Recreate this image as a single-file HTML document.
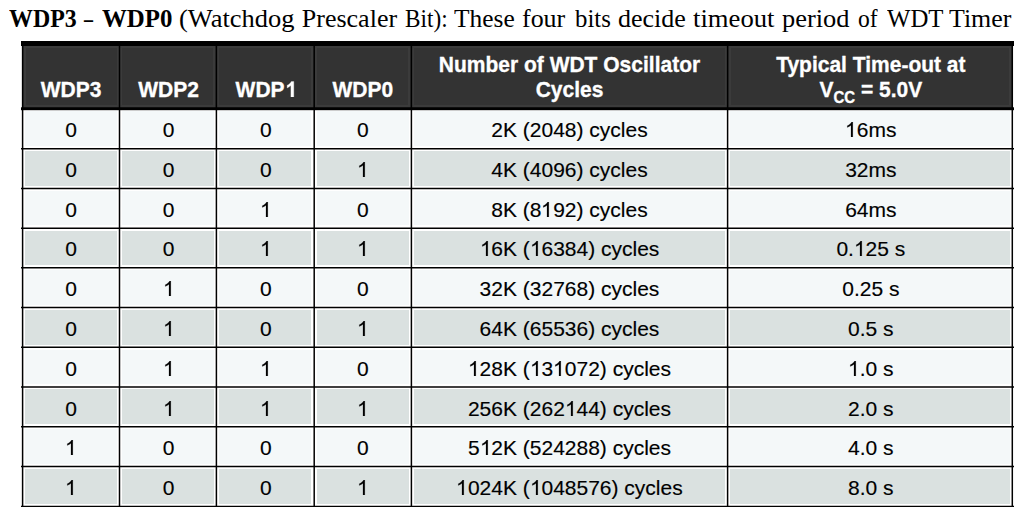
<!DOCTYPE html>
<html><head><meta charset="utf-8"><style>
html,body{margin:0;padding:0;background:#fff;width:1024px;height:515px;overflow:hidden;position:relative}
.t{position:absolute;top:-1px;font-family:"Liberation Serif",serif;font-size:26px;line-height:40px;color:#000;white-space:nowrap;transform-origin:0 0}
.b{font-weight:bold}
.c{position:absolute;font-family:"Liberation Sans",sans-serif;font-size:21px;line-height:24px;text-align:center;white-space:nowrap;color:#000;transform-origin:50% 19.27px;transform:scaleY(1.0);-webkit-text-stroke:0.15px #000}
.h{transform:scaleY(1.05);color:#fff;font-weight:bold;-webkit-text-stroke:0.3px #fff}
.bg{position:absolute}
.d1{width:0.5562em;height:0.7158em;vertical-align:baseline;fill:currentColor;stroke:currentColor;display:inline-block}
.c .d1 path{stroke-width:15}
.h .d1 path{stroke-width:29}
sub{font-size:15px;vertical-align:baseline;position:relative;top:5.7px}
</style></head><body>

<span class="t b" style="left:8.90px;transform:scaleX(0.9192)">WDP3</span>
<span class="t b" style="left:84.00px;transform:scaleX(0.6923)">–</span>
<span class="t b" style="left:101.50px;transform:scaleX(0.9562)">WDP0</span>
<span class="t" style="left:178.88px;transform:scaleX(1.0179)">(Watchdog</span>
<span class="t" style="left:301.80px;transform:scaleX(1.0000)">Prescaler</span>
<span class="t" style="left:404.51px;transform:scaleX(0.8933)">Bit):</span>
<span class="t" style="left:454.20px;transform:scaleX(0.9770)">These</span>
<span class="t" style="left:521.60px;transform:scaleX(0.9976)">four</span>
<span class="t" style="left:574.70px;transform:scaleX(0.9541)">bits</span>
<span class="t" style="left:618.00px;transform:scaleX(1.0000)">decide</span>
<span class="t" style="left:692.97px;transform:scaleX(1.0256)">timeout</span>
<span class="t" style="left:781.78px;transform:scaleX(1.0154)">period</span>
<span class="t" style="left:858.10px;transform:scaleX(0.9048)">of</span>
<span class="t" style="left:886.70px;transform:scaleX(0.9542)">WDT</span>
<span class="t" style="left:949.00px;transform:scaleX(0.9952)">Timer</span>
<div class="bg" style="left:22px;top:46px;width:990px;height:62px;background:#333333"></div>
<div class="bg" style="left:23.5px;top:46px;width:95.1px;height:61px;box-shadow:inset 0 0 0 2.0px #3b3b3b"></div>
<div class="bg" style="left:120.4px;top:46px;width:95.1px;height:61px;box-shadow:inset 0 0 0 2.0px #3b3b3b"></div>
<div class="bg" style="left:217.3px;top:46px;width:96.0px;height:61px;box-shadow:inset 0 0 0 2.0px #3b3b3b"></div>
<div class="bg" style="left:315.1px;top:46px;width:95.4px;height:61px;box-shadow:inset 0 0 0 2.0px #3b3b3b"></div>
<div class="bg" style="left:412.3px;top:46px;width:314.4px;height:61px;box-shadow:inset 0 0 0 2.0px #3b3b3b"></div>
<div class="bg" style="left:728.5px;top:46px;width:282.9px;height:61px;box-shadow:inset 0 0 0 2.0px #3b3b3b"></div>
<div class="bg" style="left:25.3px;top:111.4px;width:91.4px;height:34.7px;background:#f4f8f9"></div>
<div class="bg" style="left:122.2px;top:111.4px;width:91.4px;height:34.7px;background:#f4f8f9"></div>
<div class="bg" style="left:219.1px;top:111.4px;width:92.3px;height:34.7px;background:#f4f8f9"></div>
<div class="bg" style="left:316.9px;top:111.4px;width:91.7px;height:34.7px;background:#f4f8f9"></div>
<div class="bg" style="left:414.1px;top:111.4px;width:310.7px;height:34.7px;background:#f4f8f9"></div>
<div class="bg" style="left:730.3px;top:111.4px;width:280.1px;height:34.7px;background:#f4f8f9"></div>
<div class="bg" style="left:25.3px;top:151.1px;width:91.4px;height:34.7px;background:#dae1e0"></div>
<div class="bg" style="left:122.2px;top:151.1px;width:91.4px;height:34.7px;background:#dae1e0"></div>
<div class="bg" style="left:219.1px;top:151.1px;width:92.3px;height:34.7px;background:#dae1e0"></div>
<div class="bg" style="left:316.9px;top:151.1px;width:91.7px;height:34.7px;background:#dae1e0"></div>
<div class="bg" style="left:414.1px;top:151.1px;width:310.7px;height:34.7px;background:#dae1e0"></div>
<div class="bg" style="left:730.3px;top:151.1px;width:280.1px;height:34.7px;background:#dae1e0"></div>
<div class="bg" style="left:25.3px;top:190.8px;width:91.4px;height:34.7px;background:#f4f8f9"></div>
<div class="bg" style="left:122.2px;top:190.8px;width:91.4px;height:34.7px;background:#f4f8f9"></div>
<div class="bg" style="left:219.1px;top:190.8px;width:92.3px;height:34.7px;background:#f4f8f9"></div>
<div class="bg" style="left:316.9px;top:190.8px;width:91.7px;height:34.7px;background:#f4f8f9"></div>
<div class="bg" style="left:414.1px;top:190.8px;width:310.7px;height:34.7px;background:#f4f8f9"></div>
<div class="bg" style="left:730.3px;top:190.8px;width:280.1px;height:34.7px;background:#f4f8f9"></div>
<div class="bg" style="left:25.3px;top:230.5px;width:91.4px;height:34.7px;background:#dae1e0"></div>
<div class="bg" style="left:122.2px;top:230.5px;width:91.4px;height:34.7px;background:#dae1e0"></div>
<div class="bg" style="left:219.1px;top:230.5px;width:92.3px;height:34.7px;background:#dae1e0"></div>
<div class="bg" style="left:316.9px;top:230.5px;width:91.7px;height:34.7px;background:#dae1e0"></div>
<div class="bg" style="left:414.1px;top:230.5px;width:310.7px;height:34.7px;background:#dae1e0"></div>
<div class="bg" style="left:730.3px;top:230.5px;width:280.1px;height:34.7px;background:#dae1e0"></div>
<div class="bg" style="left:25.3px;top:270.3px;width:91.4px;height:34.7px;background:#f4f8f9"></div>
<div class="bg" style="left:122.2px;top:270.3px;width:91.4px;height:34.7px;background:#f4f8f9"></div>
<div class="bg" style="left:219.1px;top:270.3px;width:92.3px;height:34.7px;background:#f4f8f9"></div>
<div class="bg" style="left:316.9px;top:270.3px;width:91.7px;height:34.7px;background:#f4f8f9"></div>
<div class="bg" style="left:414.1px;top:270.3px;width:310.7px;height:34.7px;background:#f4f8f9"></div>
<div class="bg" style="left:730.3px;top:270.3px;width:280.1px;height:34.7px;background:#f4f8f9"></div>
<div class="bg" style="left:25.3px;top:310.0px;width:91.4px;height:34.7px;background:#dae1e0"></div>
<div class="bg" style="left:122.2px;top:310.0px;width:91.4px;height:34.7px;background:#dae1e0"></div>
<div class="bg" style="left:219.1px;top:310.0px;width:92.3px;height:34.7px;background:#dae1e0"></div>
<div class="bg" style="left:316.9px;top:310.0px;width:91.7px;height:34.7px;background:#dae1e0"></div>
<div class="bg" style="left:414.1px;top:310.0px;width:310.7px;height:34.7px;background:#dae1e0"></div>
<div class="bg" style="left:730.3px;top:310.0px;width:280.1px;height:34.7px;background:#dae1e0"></div>
<div class="bg" style="left:25.3px;top:349.7px;width:91.4px;height:34.7px;background:#f4f8f9"></div>
<div class="bg" style="left:122.2px;top:349.7px;width:91.4px;height:34.7px;background:#f4f8f9"></div>
<div class="bg" style="left:219.1px;top:349.7px;width:92.3px;height:34.7px;background:#f4f8f9"></div>
<div class="bg" style="left:316.9px;top:349.7px;width:91.7px;height:34.7px;background:#f4f8f9"></div>
<div class="bg" style="left:414.1px;top:349.7px;width:310.7px;height:34.7px;background:#f4f8f9"></div>
<div class="bg" style="left:730.3px;top:349.7px;width:280.1px;height:34.7px;background:#f4f8f9"></div>
<div class="bg" style="left:25.3px;top:389.4px;width:91.4px;height:34.7px;background:#dae1e0"></div>
<div class="bg" style="left:122.2px;top:389.4px;width:91.4px;height:34.7px;background:#dae1e0"></div>
<div class="bg" style="left:219.1px;top:389.4px;width:92.3px;height:34.7px;background:#dae1e0"></div>
<div class="bg" style="left:316.9px;top:389.4px;width:91.7px;height:34.7px;background:#dae1e0"></div>
<div class="bg" style="left:414.1px;top:389.4px;width:310.7px;height:34.7px;background:#dae1e0"></div>
<div class="bg" style="left:730.3px;top:389.4px;width:280.1px;height:34.7px;background:#dae1e0"></div>
<div class="bg" style="left:25.3px;top:429.1px;width:91.4px;height:34.7px;background:#f4f8f9"></div>
<div class="bg" style="left:122.2px;top:429.1px;width:91.4px;height:34.7px;background:#f4f8f9"></div>
<div class="bg" style="left:219.1px;top:429.1px;width:92.3px;height:34.7px;background:#f4f8f9"></div>
<div class="bg" style="left:316.9px;top:429.1px;width:91.7px;height:34.7px;background:#f4f8f9"></div>
<div class="bg" style="left:414.1px;top:429.1px;width:310.7px;height:34.7px;background:#f4f8f9"></div>
<div class="bg" style="left:730.3px;top:429.1px;width:280.1px;height:34.7px;background:#f4f8f9"></div>
<div class="bg" style="left:25.3px;top:468.9px;width:91.4px;height:34.8px;background:#dae1e0"></div>
<div class="bg" style="left:122.2px;top:468.9px;width:91.4px;height:34.8px;background:#dae1e0"></div>
<div class="bg" style="left:219.1px;top:468.9px;width:92.3px;height:34.8px;background:#dae1e0"></div>
<div class="bg" style="left:316.9px;top:468.9px;width:91.7px;height:34.8px;background:#dae1e0"></div>
<div class="bg" style="left:414.1px;top:468.9px;width:310.7px;height:34.8px;background:#dae1e0"></div>
<div class="bg" style="left:730.3px;top:468.9px;width:280.1px;height:34.8px;background:#dae1e0"></div>
<svg width="1024" height="515" style="position:absolute;left:0;top:0"><rect x="21" y="41" width="993" height="5" fill="#000"/><rect x="21" y="107.3" width="993" height="2.9" fill="#000"/><line x1="22.60" y1="41" x2="22.60" y2="507" stroke="#000" stroke-width="1.5"/><line x1="119.50" y1="41" x2="119.50" y2="507" stroke="#000" stroke-width="1.5"/><line x1="216.40" y1="41" x2="216.40" y2="507" stroke="#000" stroke-width="1.5"/><line x1="314.20" y1="41" x2="314.20" y2="507" stroke="#000" stroke-width="1.5"/><line x1="411.40" y1="41" x2="411.40" y2="507" stroke="#000" stroke-width="1.5"/><line x1="727.60" y1="41" x2="727.60" y2="507" stroke="#000" stroke-width="1.5"/><line x1="1012.30" y1="41" x2="1012.30" y2="507" stroke="#000" stroke-width="1.5"/><line x1="21" y1="148.70" x2="1014" y2="148.70" stroke="#000" stroke-width="1.5"/><line x1="21" y1="188.42" x2="1014" y2="188.42" stroke="#000" stroke-width="1.5"/><line x1="21" y1="228.14" x2="1014" y2="228.14" stroke="#000" stroke-width="1.5"/><line x1="21" y1="267.86" x2="1014" y2="267.86" stroke="#000" stroke-width="1.5"/><line x1="21" y1="307.58" x2="1014" y2="307.58" stroke="#000" stroke-width="1.5"/><line x1="21" y1="347.30" x2="1014" y2="347.30" stroke="#000" stroke-width="1.5"/><line x1="21" y1="387.02" x2="1014" y2="387.02" stroke="#000" stroke-width="1.5"/><line x1="21" y1="426.74" x2="1014" y2="426.74" stroke="#000" stroke-width="1.5"/><line x1="21" y1="466.46" x2="1014" y2="466.46" stroke="#000" stroke-width="1.5"/><line x1="21" y1="506.30" x2="1014" y2="506.30" stroke="#000" stroke-width="1.3"/></svg>
<div class="c h" style="left:22.6px;top:78.33px;width:96.9px">WDP3</div>
<div class="c h" style="left:120.1px;top:78.33px;width:96.9px">WDP2</div>
<div class="c h" style="left:217.0px;top:78.33px;width:97.8px">WDP<svg class="d1" viewBox="0 0 1139 1466"><path d="M856 1466L575 1466L575 407Q421 551 213 620L213 365Q322 329 450 231Q578 133 625 0L856 0Z"/></svg></div>
<div class="c h" style="left:314.2px;top:78.33px;width:97.2px">WDP0</div>
<div class="c h" style="left:411.4px;top:52.53px;width:316.2px">Number of WDT Oscillator</div>
<div class="c h" style="left:411.4px;top:78.13px;width:316.2px">Cycles</div>
<div class="c h" style="left:728.5px;top:52.53px;width:284.7px">Typical Time-out at</div>
<div class="c h" style="left:728.5px;top:78.13px;width:284.7px">V<sub>CC</sub> = 5.0V</div>
<div class="c" style="left:22.6px;top:118.13px;width:96.9px">0</div>
<div class="c" style="left:120.1px;top:118.13px;width:96.9px">0</div>
<div class="c" style="left:217.0px;top:118.13px;width:97.8px">0</div>
<div class="c" style="left:314.2px;top:118.13px;width:97.2px">0</div>
<div class="c" style="left:411.4px;top:118.13px;width:316.2px">2K (2048) cycles</div>
<div class="c" style="left:728.5px;top:118.13px;width:284.7px"><svg class="d1" viewBox="0 0 1139 1466"><path d="M763 1466L583 1466L583 319Q518 381 412 443Q306 505 222 536L222 362Q373 291 486 190Q599 89 646 0L763 0Z"/></svg>6ms</div>
<div class="c" style="left:22.6px;top:157.91px;width:96.9px">0</div>
<div class="c" style="left:120.1px;top:157.91px;width:96.9px">0</div>
<div class="c" style="left:217.0px;top:157.91px;width:97.8px">0</div>
<div class="c" style="left:314.2px;top:157.91px;width:97.2px"><svg class="d1" viewBox="0 0 1139 1466"><path d="M763 1466L583 1466L583 319Q518 381 412 443Q306 505 222 536L222 362Q373 291 486 190Q599 89 646 0L763 0Z"/></svg></div>
<div class="c" style="left:411.4px;top:157.91px;width:316.2px">4K (4096) cycles</div>
<div class="c" style="left:728.5px;top:157.91px;width:284.7px">32ms</div>
<div class="c" style="left:22.6px;top:197.69px;width:96.9px">0</div>
<div class="c" style="left:120.1px;top:197.69px;width:96.9px">0</div>
<div class="c" style="left:217.0px;top:197.69px;width:97.8px"><svg class="d1" viewBox="0 0 1139 1466"><path d="M763 1466L583 1466L583 319Q518 381 412 443Q306 505 222 536L222 362Q373 291 486 190Q599 89 646 0L763 0Z"/></svg></div>
<div class="c" style="left:314.2px;top:197.69px;width:97.2px">0</div>
<div class="c" style="left:411.4px;top:197.69px;width:316.2px">8K (8<svg class="d1" viewBox="0 0 1139 1466"><path d="M763 1466L583 1466L583 319Q518 381 412 443Q306 505 222 536L222 362Q373 291 486 190Q599 89 646 0L763 0Z"/></svg>92) cycles</div>
<div class="c" style="left:728.5px;top:197.69px;width:284.7px">64ms</div>
<div class="c" style="left:22.6px;top:237.47px;width:96.9px">0</div>
<div class="c" style="left:120.1px;top:237.47px;width:96.9px">0</div>
<div class="c" style="left:217.0px;top:237.47px;width:97.8px"><svg class="d1" viewBox="0 0 1139 1466"><path d="M763 1466L583 1466L583 319Q518 381 412 443Q306 505 222 536L222 362Q373 291 486 190Q599 89 646 0L763 0Z"/></svg></div>
<div class="c" style="left:314.2px;top:237.47px;width:97.2px"><svg class="d1" viewBox="0 0 1139 1466"><path d="M763 1466L583 1466L583 319Q518 381 412 443Q306 505 222 536L222 362Q373 291 486 190Q599 89 646 0L763 0Z"/></svg></div>
<div class="c" style="left:411.4px;top:237.47px;width:316.2px"><svg class="d1" viewBox="0 0 1139 1466"><path d="M763 1466L583 1466L583 319Q518 381 412 443Q306 505 222 536L222 362Q373 291 486 190Q599 89 646 0L763 0Z"/></svg>6K (<svg class="d1" viewBox="0 0 1139 1466"><path d="M763 1466L583 1466L583 319Q518 381 412 443Q306 505 222 536L222 362Q373 291 486 190Q599 89 646 0L763 0Z"/></svg>6384) cycles</div>
<div class="c" style="left:728.5px;top:237.47px;width:284.7px">0.<svg class="d1" viewBox="0 0 1139 1466"><path d="M763 1466L583 1466L583 319Q518 381 412 443Q306 505 222 536L222 362Q373 291 486 190Q599 89 646 0L763 0Z"/></svg>25 s</div>
<div class="c" style="left:22.6px;top:277.25px;width:96.9px">0</div>
<div class="c" style="left:120.1px;top:277.25px;width:96.9px"><svg class="d1" viewBox="0 0 1139 1466"><path d="M763 1466L583 1466L583 319Q518 381 412 443Q306 505 222 536L222 362Q373 291 486 190Q599 89 646 0L763 0Z"/></svg></div>
<div class="c" style="left:217.0px;top:277.25px;width:97.8px">0</div>
<div class="c" style="left:314.2px;top:277.25px;width:97.2px">0</div>
<div class="c" style="left:411.4px;top:277.25px;width:316.2px">32K (32768) cycles</div>
<div class="c" style="left:728.5px;top:277.25px;width:284.7px">0.25 s</div>
<div class="c" style="left:22.6px;top:317.03px;width:96.9px">0</div>
<div class="c" style="left:120.1px;top:317.03px;width:96.9px"><svg class="d1" viewBox="0 0 1139 1466"><path d="M763 1466L583 1466L583 319Q518 381 412 443Q306 505 222 536L222 362Q373 291 486 190Q599 89 646 0L763 0Z"/></svg></div>
<div class="c" style="left:217.0px;top:317.03px;width:97.8px">0</div>
<div class="c" style="left:314.2px;top:317.03px;width:97.2px"><svg class="d1" viewBox="0 0 1139 1466"><path d="M763 1466L583 1466L583 319Q518 381 412 443Q306 505 222 536L222 362Q373 291 486 190Q599 89 646 0L763 0Z"/></svg></div>
<div class="c" style="left:411.4px;top:317.03px;width:316.2px">64K (65536) cycles</div>
<div class="c" style="left:728.5px;top:317.03px;width:284.7px">0.5 s</div>
<div class="c" style="left:22.6px;top:356.81px;width:96.9px">0</div>
<div class="c" style="left:120.1px;top:356.81px;width:96.9px"><svg class="d1" viewBox="0 0 1139 1466"><path d="M763 1466L583 1466L583 319Q518 381 412 443Q306 505 222 536L222 362Q373 291 486 190Q599 89 646 0L763 0Z"/></svg></div>
<div class="c" style="left:217.0px;top:356.81px;width:97.8px"><svg class="d1" viewBox="0 0 1139 1466"><path d="M763 1466L583 1466L583 319Q518 381 412 443Q306 505 222 536L222 362Q373 291 486 190Q599 89 646 0L763 0Z"/></svg></div>
<div class="c" style="left:314.2px;top:356.81px;width:97.2px">0</div>
<div class="c" style="left:411.4px;top:356.81px;width:316.2px"><svg class="d1" viewBox="0 0 1139 1466"><path d="M763 1466L583 1466L583 319Q518 381 412 443Q306 505 222 536L222 362Q373 291 486 190Q599 89 646 0L763 0Z"/></svg>28K (<svg class="d1" viewBox="0 0 1139 1466"><path d="M763 1466L583 1466L583 319Q518 381 412 443Q306 505 222 536L222 362Q373 291 486 190Q599 89 646 0L763 0Z"/></svg>3<svg class="d1" viewBox="0 0 1139 1466"><path d="M763 1466L583 1466L583 319Q518 381 412 443Q306 505 222 536L222 362Q373 291 486 190Q599 89 646 0L763 0Z"/></svg>072) cycles</div>
<div class="c" style="left:728.5px;top:356.81px;width:284.7px"><svg class="d1" viewBox="0 0 1139 1466"><path d="M763 1466L583 1466L583 319Q518 381 412 443Q306 505 222 536L222 362Q373 291 486 190Q599 89 646 0L763 0Z"/></svg>.0 s</div>
<div class="c" style="left:22.6px;top:396.59px;width:96.9px">0</div>
<div class="c" style="left:120.1px;top:396.59px;width:96.9px"><svg class="d1" viewBox="0 0 1139 1466"><path d="M763 1466L583 1466L583 319Q518 381 412 443Q306 505 222 536L222 362Q373 291 486 190Q599 89 646 0L763 0Z"/></svg></div>
<div class="c" style="left:217.0px;top:396.59px;width:97.8px"><svg class="d1" viewBox="0 0 1139 1466"><path d="M763 1466L583 1466L583 319Q518 381 412 443Q306 505 222 536L222 362Q373 291 486 190Q599 89 646 0L763 0Z"/></svg></div>
<div class="c" style="left:314.2px;top:396.59px;width:97.2px"><svg class="d1" viewBox="0 0 1139 1466"><path d="M763 1466L583 1466L583 319Q518 381 412 443Q306 505 222 536L222 362Q373 291 486 190Q599 89 646 0L763 0Z"/></svg></div>
<div class="c" style="left:411.4px;top:396.59px;width:316.2px">256K (262<svg class="d1" viewBox="0 0 1139 1466"><path d="M763 1466L583 1466L583 319Q518 381 412 443Q306 505 222 536L222 362Q373 291 486 190Q599 89 646 0L763 0Z"/></svg>44) cycles</div>
<div class="c" style="left:728.5px;top:396.59px;width:284.7px">2.0 s</div>
<div class="c" style="left:22.6px;top:436.37px;width:96.9px"><svg class="d1" viewBox="0 0 1139 1466"><path d="M763 1466L583 1466L583 319Q518 381 412 443Q306 505 222 536L222 362Q373 291 486 190Q599 89 646 0L763 0Z"/></svg></div>
<div class="c" style="left:120.1px;top:436.37px;width:96.9px">0</div>
<div class="c" style="left:217.0px;top:436.37px;width:97.8px">0</div>
<div class="c" style="left:314.2px;top:436.37px;width:97.2px">0</div>
<div class="c" style="left:411.4px;top:436.37px;width:316.2px">5<svg class="d1" viewBox="0 0 1139 1466"><path d="M763 1466L583 1466L583 319Q518 381 412 443Q306 505 222 536L222 362Q373 291 486 190Q599 89 646 0L763 0Z"/></svg>2K (524288) cycles</div>
<div class="c" style="left:728.5px;top:436.37px;width:284.7px">4.0 s</div>
<div class="c" style="left:22.6px;top:476.15px;width:96.9px"><svg class="d1" viewBox="0 0 1139 1466"><path d="M763 1466L583 1466L583 319Q518 381 412 443Q306 505 222 536L222 362Q373 291 486 190Q599 89 646 0L763 0Z"/></svg></div>
<div class="c" style="left:120.1px;top:476.15px;width:96.9px">0</div>
<div class="c" style="left:217.0px;top:476.15px;width:97.8px">0</div>
<div class="c" style="left:314.2px;top:476.15px;width:97.2px"><svg class="d1" viewBox="0 0 1139 1466"><path d="M763 1466L583 1466L583 319Q518 381 412 443Q306 505 222 536L222 362Q373 291 486 190Q599 89 646 0L763 0Z"/></svg></div>
<div class="c" style="left:411.4px;top:476.15px;width:316.2px"><svg class="d1" viewBox="0 0 1139 1466"><path d="M763 1466L583 1466L583 319Q518 381 412 443Q306 505 222 536L222 362Q373 291 486 190Q599 89 646 0L763 0Z"/></svg>024K (<svg class="d1" viewBox="0 0 1139 1466"><path d="M763 1466L583 1466L583 319Q518 381 412 443Q306 505 222 536L222 362Q373 291 486 190Q599 89 646 0L763 0Z"/></svg>048576) cycles</div>
<div class="c" style="left:728.5px;top:476.15px;width:284.7px">8.0 s</div>
</body></html>
